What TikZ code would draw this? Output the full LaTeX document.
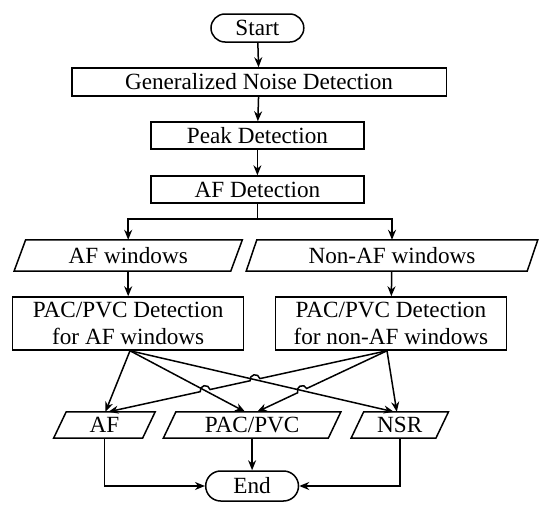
\documentclass[tikz,border=0pt]{standalone}
\usepackage{fontspec}
\setmainfont{Liberation Serif}
\usetikzlibrary{arrows.meta,calc,intersections}
\newcommand{\parabox}[2]{\draw[line width=1.5pt] ([xshift=-#2]#1.south west) -- ([xshift=-#2]#1.south east) -- ([xshift=#2]#1.north east) -- ([xshift=#2]#1.north west) -- cycle;}
\begin{document}
\begin{tikzpicture}[x=1pt,y=1pt,
  every node/.style={font=\fontsize{23.2}{27}\selectfont, inner sep=0pt, align=center},
  proc/.style={draw, line width=1.5pt, rectangle},
  term/.style={draw, line width=1.5pt, rectangle, rounded corners=14pt},
  io/.style={rectangle},
  arr/.style={line width=1.5pt, -{Stealth[length=10pt,width=8pt]}},
  ln/.style={line width=1.5pt}]
\useasboundingbox (0,0) rectangle (550,-514);
\node[term, minimum width=92.8pt, minimum height=28pt] (start) at (257.4,-28) {Start};
\node[proc, minimum width=374.5pt, minimum height=28pt] (gen) at (259,-82) {Generalized Noise Detection};
\node[proc, minimum width=213pt, minimum height=27pt] (peak) at (257.4,-135.5) {Peak Detection};
\node[proc, minimum width=213pt, minimum height=27pt] (afd) at (257.4,-189.5) {AF Detection};
\node[io, minimum width=216.3pt, minimum height=31pt] (afw) at (128.2,-255.5) {AF windows};
\node[io, minimum width=280.6pt, minimum height=31pt] (nafw) at (392,-255.5) {Non-AF windows};
\parabox{afw}{5.8pt}
\parabox{nafw}{5.3pt}
\node[proc, minimum width=231pt, minimum height=53pt] (pacl) at (128.2,-323.5) {PAC/PVC Detection\\for AF windows};
\node[proc, minimum width=231pt, minimum height=53pt] (pacr) at (390.9,-323.5) {PAC/PVC Detection\\for non-AF windows};
\node[io, minimum width=88.6pt, minimum height=26pt] (oaf) at (104.4,-425) {AF};
\node[io, minimum width=164.6pt, minimum height=26pt] (opac) at (252.1,-425) {PAC/PVC};
\node[io, minimum width=84.4pt, minimum height=26pt] (onsr) at (399.8,-425) {NSR};
\parabox{oaf}{6.3pt}
\parabox{opac}{6.3pt}
\parabox{onsr}{6.3pt}
\node[term, minimum width=92.8pt, minimum height=30pt, rounded corners=15pt] (end) at (252.1,-486) {End};
\coordinate (br) at (257.4,-219);
\draw[arr] (start) -- (gen);
\draw[arr] (gen) -- (peak);
\draw[arr] (peak) -- (afd);
\draw[ln] (afd) -- (br);
\draw[arr] (br) -| (afw);
\draw[arr] (br) -| (nafw);
\draw[arr] (afw) -- (pacl);
\draw[arr] (nafw) -- (pacr);
% crossing connectors
\coordinate (L) at ($(pacl.south)+(1.8,0)$);
\coordinate (R) at ($(pacr.south)+(-3.9,0)$);
\coordinate (afA) at ($(oaf.north)+(1,0)$);
\coordinate (afB) at ($(oaf.north)+(4,0)$);
\coordinate (pacA) at ($(opac.north)+(-7,0)$);
\coordinate (pacB) at ($(opac.north)+(5,0)$);
\coordinate (nsrA) at ($(onsr.north)+(-6,0)$);
\coordinate (nsrB) at ($(onsr.north)+(-3,0)$);
\path[name path=lpac] (L) -- (pacA);
\path[name path=lnsr] (L) -- (nsrA);
\path[name path=raf] (R) -- (afB);
\path[name path=rpac] (R) -- (pacB);
\path[name intersections={of=lpac and raf, by=xa}];
\path[name intersections={of=lnsr and raf, by=xb}];
\path[name intersections={of=lnsr and rpac, by=xc}];
\draw[arr] (L) -- (afA);
\draw[arr] (L) -- (pacA);
\draw[arr] (L) -- (nsrA);
\draw[arr] (R) -- (nsrB);
\draw[arr] let \p1=($(R)-(afB)$), \n1={atan2(\y1,\x1)} in
  (R) -- ($(xb)!5pt!(R)$) arc[start angle=\n1, end angle=\n1+180, radius=5pt]
  -- ($(xa)!5pt!(R)$) arc[start angle=\n1, end angle=\n1+180, radius=5pt] -- (afB);
\draw[arr] let \p1=($(R)-(pacB)$), \n1={atan2(\y1,\x1)} in
  (R) -- ($(xc)!5pt!(R)$) arc[start angle=\n1, end angle=\n1+180, radius=5pt] -- (pacB);
\draw[arr] (oaf.south) |- (end.west);
\draw[arr] (onsr.south) |- (end.east);
\draw[arr] (opac.south) -- (opac.south |- end.north);
\end{tikzpicture}
\end{document}
